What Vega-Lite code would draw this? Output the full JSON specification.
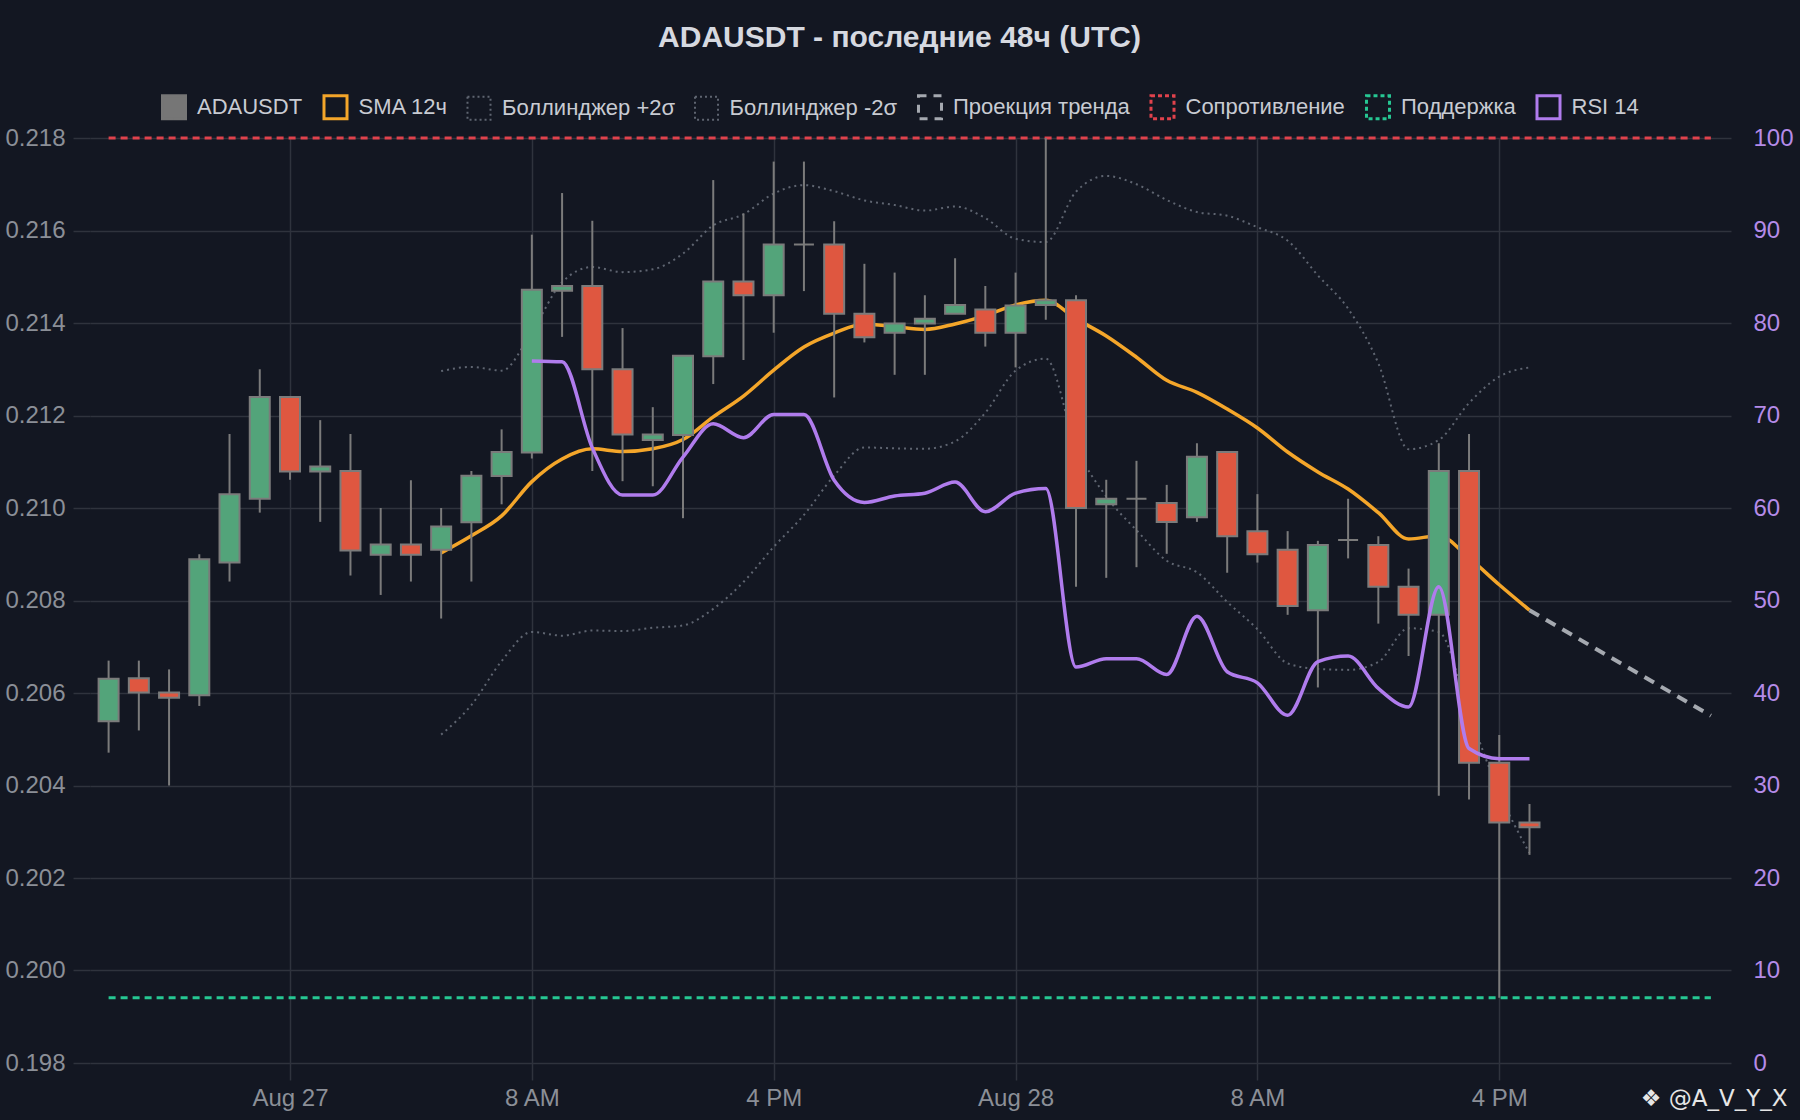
{
  "$schema": "https://vega.github.io/schema/vega-lite/v6.json",
  "width": 1641,
  "height": 925,
  "autosize": {"type": "none"},
  "padding": {"left": 90, "top": 138, "right": 69, "bottom": 57},
  "background": "#131722",
  "title": {
    "text": "ADAUSDT - последние 48ч (UTC)",
    "font": "Liberation Sans",
    "fontSize": 30,
    "fontWeight": "bold",
    "color": "#d6d9e0",
    "anchor": "middle",
    "frame": "group",
    "dx": -11,
    "offset": 43
  },
  "config": {
    "view": {"stroke": null},
    "font": "Liberation Sans",
    "axis": {"labelFont": "Liberation Sans", "labelFontSize": 24, "title": null, "domain": false}
  },
  "datasets": {
    "hourly": [
      {"t": "2023-08-26T18:00:00Z", "open": 0.20539, "high": 0.20670, "low": 0.20471, "close": 0.20631},
      {"t": "2023-08-26T19:00:00Z", "open": 0.20632, "high": 0.20670, "low": 0.20519, "close": 0.20601},
      {"t": "2023-08-26T20:00:00Z", "open": 0.20601, "high": 0.20651, "low": 0.20400, "close": 0.20590},
      {"t": "2023-08-26T21:00:00Z", "open": 0.20595, "high": 0.20900, "low": 0.20572, "close": 0.20889},
      {"t": "2023-08-26T22:00:00Z", "open": 0.20882, "high": 0.21160, "low": 0.20841, "close": 0.21030},
      {"t": "2023-08-26T23:00:00Z", "open": 0.21020, "high": 0.21300, "low": 0.20990, "close": 0.21240},
      {"t": "2023-08-27T00:00:00Z", "open": 0.21240, "high": 0.21240, "low": 0.21061, "close": 0.21079},
      {"t": "2023-08-27T01:00:00Z", "open": 0.21079, "high": 0.21190, "low": 0.20970, "close": 0.21090},
      {"t": "2023-08-27T02:00:00Z", "open": 0.21080, "high": 0.21160, "low": 0.20854, "close": 0.20908},
      {"t": "2023-08-27T03:00:00Z", "open": 0.20899, "high": 0.21000, "low": 0.20812, "close": 0.20921},
      {"t": "2023-08-27T04:00:00Z", "open": 0.20921, "high": 0.21060, "low": 0.20841, "close": 0.20899},
      {"t": "2023-08-27T05:00:00Z", "open": 0.20910, "high": 0.21000, "low": 0.20761, "close": 0.20960, "sma": 0.20903, "bb_up": 0.21296, "bb_lo": 0.20510},
      {"t": "2023-08-27T06:00:00Z", "open": 0.20969, "high": 0.21080, "low": 0.20841, "close": 0.21070, "sma": 0.20940, "bb_up": 0.21305, "bb_lo": 0.20574},
      {"t": "2023-08-27T07:00:00Z", "open": 0.21069, "high": 0.21170, "low": 0.21008, "close": 0.21121, "sma": 0.20983, "bb_up": 0.21297, "bb_lo": 0.20669},
      {"t": "2023-08-27T08:00:00Z", "open": 0.21120, "high": 0.21591, "low": 0.21107, "close": 0.21472, "sma": 0.21057, "bb_up": 0.21381, "bb_lo": 0.20732, "rsi": 75.9},
      {"t": "2023-08-27T09:00:00Z", "open": 0.21470, "high": 0.21681, "low": 0.21370, "close": 0.21480, "sma": 0.21106, "bb_up": 0.21488, "bb_lo": 0.20724, "rsi": 75.8},
      {"t": "2023-08-27T10:00:00Z", "open": 0.21480, "high": 0.21621, "low": 0.21080, "close": 0.21300, "sma": 0.21128, "bb_up": 0.21521, "bb_lo": 0.20735, "rsi": 66.5},
      {"t": "2023-08-27T11:00:00Z", "open": 0.21300, "high": 0.21389, "low": 0.21058, "close": 0.21159, "sma": 0.21122, "bb_up": 0.21510, "bb_lo": 0.20734, "rsi": 61.4},
      {"t": "2023-08-27T12:00:00Z", "open": 0.21147, "high": 0.21218, "low": 0.21047, "close": 0.21159, "sma": 0.21128, "bb_up": 0.21516, "bb_lo": 0.20741, "rsi": 61.4},
      {"t": "2023-08-27T13:00:00Z", "open": 0.21158, "high": 0.21330, "low": 0.20978, "close": 0.21329, "sma": 0.21148, "bb_up": 0.21550, "bb_lo": 0.20746, "rsi": 65.5},
      {"t": "2023-08-27T14:00:00Z", "open": 0.21328, "high": 0.21709, "low": 0.21268, "close": 0.21490, "sma": 0.21197, "bb_up": 0.21611, "bb_lo": 0.20782, "rsi": 69.1},
      {"t": "2023-08-27T15:00:00Z", "open": 0.21490, "high": 0.21637, "low": 0.21320, "close": 0.21460, "sma": 0.21242, "bb_up": 0.21635, "bb_lo": 0.20840, "rsi": 67.6},
      {"t": "2023-08-27T16:00:00Z", "open": 0.21460, "high": 0.21749, "low": 0.21379, "close": 0.21570, "sma": 0.21298, "bb_up": 0.21680, "bb_lo": 0.20916, "rsi": 70.1},
      {"t": "2023-08-27T17:00:00Z", "open": 0.21570, "high": 0.21749, "low": 0.21469, "close": 0.21570, "sma": 0.21348, "bb_up": 0.21698, "bb_lo": 0.20985, "rsi": 70.1},
      {"t": "2023-08-27T18:00:00Z", "open": 0.21570, "high": 0.21620, "low": 0.21239, "close": 0.21420, "sma": 0.21378, "bb_up": 0.21685, "bb_lo": 0.21070, "rsi": 63.0},
      {"t": "2023-08-27T19:00:00Z", "open": 0.21420, "high": 0.21528, "low": 0.21358, "close": 0.21369, "sma": 0.21398, "bb_up": 0.21665, "bb_lo": 0.21131, "rsi": 60.6},
      {"t": "2023-08-27T20:00:00Z", "open": 0.21379, "high": 0.21509, "low": 0.21288, "close": 0.21399, "sma": 0.21392, "bb_up": 0.21655, "bb_lo": 0.21129, "rsi": 61.3},
      {"t": "2023-08-27T21:00:00Z", "open": 0.21399, "high": 0.21460, "low": 0.21288, "close": 0.21409, "sma": 0.21386, "bb_up": 0.21643, "bb_lo": 0.21128, "rsi": 61.6},
      {"t": "2023-08-27T22:00:00Z", "open": 0.21420, "high": 0.21540, "low": 0.21420, "close": 0.21439, "sma": 0.21398, "bb_up": 0.21652, "bb_lo": 0.21144, "rsi": 62.8},
      {"t": "2023-08-27T23:00:00Z", "open": 0.21429, "high": 0.21480, "low": 0.21349, "close": 0.21379, "sma": 0.21416, "bb_up": 0.21627, "bb_lo": 0.21206, "rsi": 59.6},
      {"t": "2023-08-28T00:00:00Z", "open": 0.21379, "high": 0.21509, "low": 0.21304, "close": 0.21438, "sma": 0.21439, "bb_up": 0.21582, "bb_lo": 0.21297, "rsi": 61.6},
      {"t": "2023-08-28T01:00:00Z", "open": 0.21439, "high": 0.21800, "low": 0.21407, "close": 0.21449, "sma": 0.21449, "bb_up": 0.21575, "bb_lo": 0.21323, "rsi": 62.1},
      {"t": "2023-08-28T02:00:00Z", "open": 0.21449, "high": 0.21460, "low": 0.20830, "close": 0.21000, "sma": 0.21409, "bb_up": 0.21684, "bb_lo": 0.21133, "rsi": 42.8},
      {"t": "2023-08-28T03:00:00Z", "open": 0.21008, "high": 0.21061, "low": 0.20849, "close": 0.21020, "sma": 0.21372, "bb_up": 0.21718, "bb_lo": 0.21025, "rsi": 43.7},
      {"t": "2023-08-28T04:00:00Z", "open": 0.21020, "high": 0.21102, "low": 0.20872, "close": 0.21020, "sma": 0.21326, "bb_up": 0.21700, "bb_lo": 0.20952, "rsi": 43.7},
      {"t": "2023-08-28T05:00:00Z", "open": 0.21011, "high": 0.21050, "low": 0.20901, "close": 0.20970, "sma": 0.21276, "bb_up": 0.21666, "bb_lo": 0.20886, "rsi": 42.0},
      {"t": "2023-08-28T06:00:00Z", "open": 0.20980, "high": 0.21140, "low": 0.20970, "close": 0.21111, "sma": 0.21250, "bb_up": 0.21640, "bb_lo": 0.20861, "rsi": 48.3},
      {"t": "2023-08-28T07:00:00Z", "open": 0.21121, "high": 0.21121, "low": 0.20860, "close": 0.20939, "sma": 0.21214, "bb_up": 0.21632, "bb_lo": 0.20797, "rsi": 42.3},
      {"t": "2023-08-28T08:00:00Z", "open": 0.20950, "high": 0.21030, "low": 0.20882, "close": 0.20900, "sma": 0.21173, "bb_up": 0.21607, "bb_lo": 0.20738, "rsi": 41.1},
      {"t": "2023-08-28T09:00:00Z", "open": 0.20910, "high": 0.20950, "low": 0.20769, "close": 0.20788, "sma": 0.21121, "bb_up": 0.21578, "bb_lo": 0.20664, "rsi": 37.6},
      {"t": "2023-08-28T10:00:00Z", "open": 0.20779, "high": 0.20929, "low": 0.20612, "close": 0.20920, "sma": 0.21078, "bb_up": 0.21503, "bb_lo": 0.20652, "rsi": 43.4},
      {"t": "2023-08-28T11:00:00Z", "open": 0.20931, "high": 0.21020, "low": 0.20891, "close": 0.20931, "sma": 0.21041, "bb_up": 0.21431, "bb_lo": 0.20650, "rsi": 44.0},
      {"t": "2023-08-28T12:00:00Z", "open": 0.20920, "high": 0.20939, "low": 0.20750, "close": 0.20830, "sma": 0.20990, "bb_up": 0.21313, "bb_lo": 0.20667, "rsi": 40.5},
      {"t": "2023-08-28T13:00:00Z", "open": 0.20830, "high": 0.20869, "low": 0.20680, "close": 0.20769, "sma": 0.20933, "bb_up": 0.21127, "bb_lo": 0.20740, "rsi": 38.5},
      {"t": "2023-08-28T14:00:00Z", "open": 0.20769, "high": 0.21140, "low": 0.20378, "close": 0.21080, "sma": 0.20940, "bb_up": 0.21147, "bb_lo": 0.20732, "rsi": 51.5},
      {"t": "2023-08-28T15:00:00Z", "open": 0.21080, "high": 0.21160, "low": 0.20370, "close": 0.20449, "sma": 0.20892, "bb_up": 0.21227, "bb_lo": 0.20557, "rsi": 34.0},
      {"t": "2023-08-28T16:00:00Z", "open": 0.20449, "high": 0.20509, "low": 0.19941, "close": 0.20320, "sma": 0.20834, "bb_up": 0.21284, "bb_lo": 0.20384, "rsi": 32.9},
      {"t": "2023-08-28T17:00:00Z", "open": 0.20320, "high": 0.20360, "low": 0.20250, "close": 0.20310, "sma": 0.20779, "bb_up": 0.21304, "bb_lo": 0.20254, "rsi": 32.9}
    ],
    "levels": [
      {"series": "Сопротивление", "t": "2023-08-26T18:00:00Z", "price": 0.218},
      {"series": "Сопротивление", "t": "2023-08-28T23:00:00Z", "price": 0.218},
      {"series": "Поддержка", "t": "2023-08-26T18:00:00Z", "price": 0.19941},
      {"series": "Поддержка", "t": "2023-08-28T23:00:00Z", "price": 0.19941},
      {"series": "Проекция тренда", "t": "2023-08-28T17:00:00Z", "price": 0.20779},
      {"series": "Проекция тренда", "t": "2023-08-28T23:00:00Z", "price": 0.20551}
    ]
  },
  "layer": [
    {
      "layer": [
        {
          "data": {"name": "hourly"},
          "mark": {"type": "line", "strokeWidth": 2, "strokeDash": [2, 4], "interpolate": "monotone"},
          "encoding": {
            "x": {
              "field": "t", "type": "temporal",
              "scale": {"type": "utc", "domain": [{"year": 2023, "month": 8, "date": 26, "hours": 17, "minutes": 33, "utc": true}, {"year": 2023, "month": 8, "date": 28, "hours": 23, "minutes": 30, "utc": true}]},
              "axis": {
                "values": [
                  {"year": 2023, "month": 8, "date": 27, "hours": 0, "utc": true},
                  {"year": 2023, "month": 8, "date": 27, "hours": 8, "utc": true},
                  {"year": 2023, "month": 8, "date": 27, "hours": 16, "utc": true},
                  {"year": 2023, "month": 8, "date": 28, "hours": 0, "utc": true},
                  {"year": 2023, "month": 8, "date": 28, "hours": 8, "utc": true},
                  {"year": 2023, "month": 8, "date": 28, "hours": 16, "utc": true}
                ],
                "labelExpr": "utchours(datum.value) == 0 ? utcFormat(datum.value, '%b %-d') : utcFormat(datum.value, '%-I %p')",
                "grid": true, "gridColor": "#2f333d", "gridWidth": 1.5,
                "ticks": true, "tickColor": "#2f333d", "tickWidth": 1.5, "tickSize": 17,
                "labelColor": "#8b8f97", "labelPadding": 6, "labelFlush": false
              }
            },
            "y": {
              "field": "bb_up", "type": "quantitative",
              "scale": {"domain": [0.198, 0.218], "nice": false, "zero": false},
              "axis": {
                "orient": "left",
                "values": [0.198, 0.2, 0.202, 0.204, 0.206, 0.208, 0.21, 0.212, 0.214, 0.216, 0.218],
                "format": ".3f",
                "grid": true, "gridColor": "#2f333d", "gridWidth": 1.5,
                "ticks": true, "tickColor": "#2f333d", "tickWidth": 1.5, "tickSize": 17,
                "labelColor": "#8b8f97", "labelPadding": 8
              }
            },
            "color": {
              "datum": "Боллинджер +2σ", "type": "nominal", "title": null,
              "scale": {
                "domain": ["ADAUSDT", "SMA 12ч", "Боллинджер +2σ", "Боллинджер -2σ", "Проекция тренда", "Сопротивление", "Поддержка", "RSI 14"],
                "range": ["#767676", "#f4a62a", "#5f6571", "#5f6571", "#a5a9b0", "#e0424c", "#26c793", "#b07ced"]
              },
              "legend": {
                "title": null,
                "orient": "none",
                "legendX": 73,
                "legendY": -42,
                "direction": "horizontal",
                "padding": 0,
                "symbolType": "square",
                "symbolSize": 530,
                "symbolStrokeWidth": 3,
                "labelFont": "Liberation Sans",
                "labelFontSize": 22,
                "labelColor": "#c8cbd2",
                "labelLimit": 400,
                "labelOffset": 12,
                "columnPadding": 14.5,
                "encode": {
                  "symbols": {
                    "update": {
                      "fill": {"signal": "datum.value === 'ADAUSDT' ? '#767676' : 'transparent'"},
                      "strokeWidth": {"signal": "indexof(['Боллинджер +2σ', 'Боллинджер -2σ'], datum.value) >= 0 ? 2 : 3"},
                      "strokeDash": {"signal": "indexof(['Боллинджер +2σ', 'Боллинджер -2σ'], datum.value) >= 0 ? [2, 3] : datum.value === 'Проекция тренда' ? [8, 7] : indexof(['Сопротивление', 'Поддержка'], datum.value) >= 0 ? [4, 3] : [1, 0]"}
                    }
                  }
                }
              }
            }
          }
        },
        {
          "data": {"name": "hourly"},
          "mark": {"type": "line", "strokeWidth": 2, "strokeDash": [2, 4], "interpolate": "monotone"},
          "encoding": {
            "x": {"field": "t", "type": "temporal"},
            "y": {"field": "bb_lo", "type": "quantitative", "scale": {"domain": [0.198, 0.218], "nice": false, "zero": false}},
            "color": {"datum": "Боллинджер -2σ", "type": "nominal", "title": null}
          }
        },
        {
          "data": {"name": "levels"},
          "transform": [{"filter": "datum.series !== 'Проекция тренда'"}],
          "mark": {"type": "line", "strokeWidth": 3, "strokeDash": [7, 5]},
          "encoding": {
            "x": {"field": "t", "type": "temporal"},
            "y": {"field": "price", "type": "quantitative", "scale": {"domain": [0.198, 0.218], "nice": false, "zero": false}},
            "color": {"field": "series", "type": "nominal", "title": null},
            "detail": {"field": "series"}
          }
        },
        {
          "data": {"name": "hourly"},
          "mark": {"type": "line", "strokeWidth": 3.5, "interpolate": "monotone"},
          "encoding": {
            "x": {"field": "t", "type": "temporal"},
            "y": {"field": "sma", "type": "quantitative", "scale": {"domain": [0.198, 0.218], "nice": false, "zero": false}},
            "color": {"datum": "SMA 12ч", "type": "nominal", "title": null}
          }
        },
        {
          "data": {"name": "levels"},
          "transform": [{"filter": "datum.series === 'Проекция тренда'"}],
          "mark": {"type": "line", "strokeWidth": 4, "strokeDash": [11, 8]},
          "encoding": {
            "x": {"field": "t", "type": "temporal"},
            "y": {"field": "price", "type": "quantitative", "scale": {"domain": [0.198, 0.218], "nice": false, "zero": false}},
            "color": {"field": "series", "type": "nominal", "title": null}
          }
        },
        {
          "data": {"name": "hourly"},
          "mark": {"type": "rule", "color": "#7b7b7b", "strokeWidth": 2},
          "encoding": {
            "x": {"field": "t", "type": "temporal"},
            "y": {"field": "low", "type": "quantitative", "scale": {"domain": [0.198, 0.218], "nice": false, "zero": false}},
            "y2": {"field": "high"}
          }
        },
        {
          "data": {"name": "hourly"},
          "mark": {"type": "bar", "width": 20, "stroke": "#7b7b7b", "strokeWidth": 2},
          "encoding": {
            "x": {"field": "t", "type": "temporal"},
            "y": {"field": "open", "type": "quantitative", "scale": {"domain": [0.198, 0.218], "nice": false, "zero": false}},
            "y2": {"field": "close"},
            "fill": {"condition": {"test": "datum.close > datum.open", "value": "#53a47a"}, "value": "#df5740"}
          }
        },
        {
          "data": {"values": [{}]},
          "mark": {"type": "text", "text": "❖ @A_V_Y_X", "font": "DejaVu Sans", "fontSize": 23, "color": "#e6e6e6", "align": "left", "baseline": "middle"},
          "encoding": {
            "x": {"datum": {"year": 2023, "month": 8, "date": 28, "hours": 20, "minutes": 41, "utc": true}, "type": "temporal"},
            "y": {"datum": 0.19722, "type": "quantitative", "scale": {"domain": [0.198, 0.218], "nice": false, "zero": false}}
          }
        }
      ]
    },
    {
      "data": {"name": "hourly"},
      "mark": {"type": "line", "strokeWidth": 3.5, "interpolate": "monotone"},
      "encoding": {
        "x": {"field": "t", "type": "temporal"},
        "y": {
          "field": "rsi", "type": "quantitative",
          "scale": {"domain": [0, 100], "nice": false},
          "axis": {
            "orient": "right",
            "values": [0, 10, 20, 30, 40, 50, 60, 70, 80, 90, 100],
            "grid": false, "ticks": false,
            "labelColor": "#b58be8", "labelPadding": 22
          }
        },
        "color": {"datum": "RSI 14", "type": "nominal", "title": null}
      }
    }
  ],
  "resolve": {"scale": {"y": "independent"}}
}
